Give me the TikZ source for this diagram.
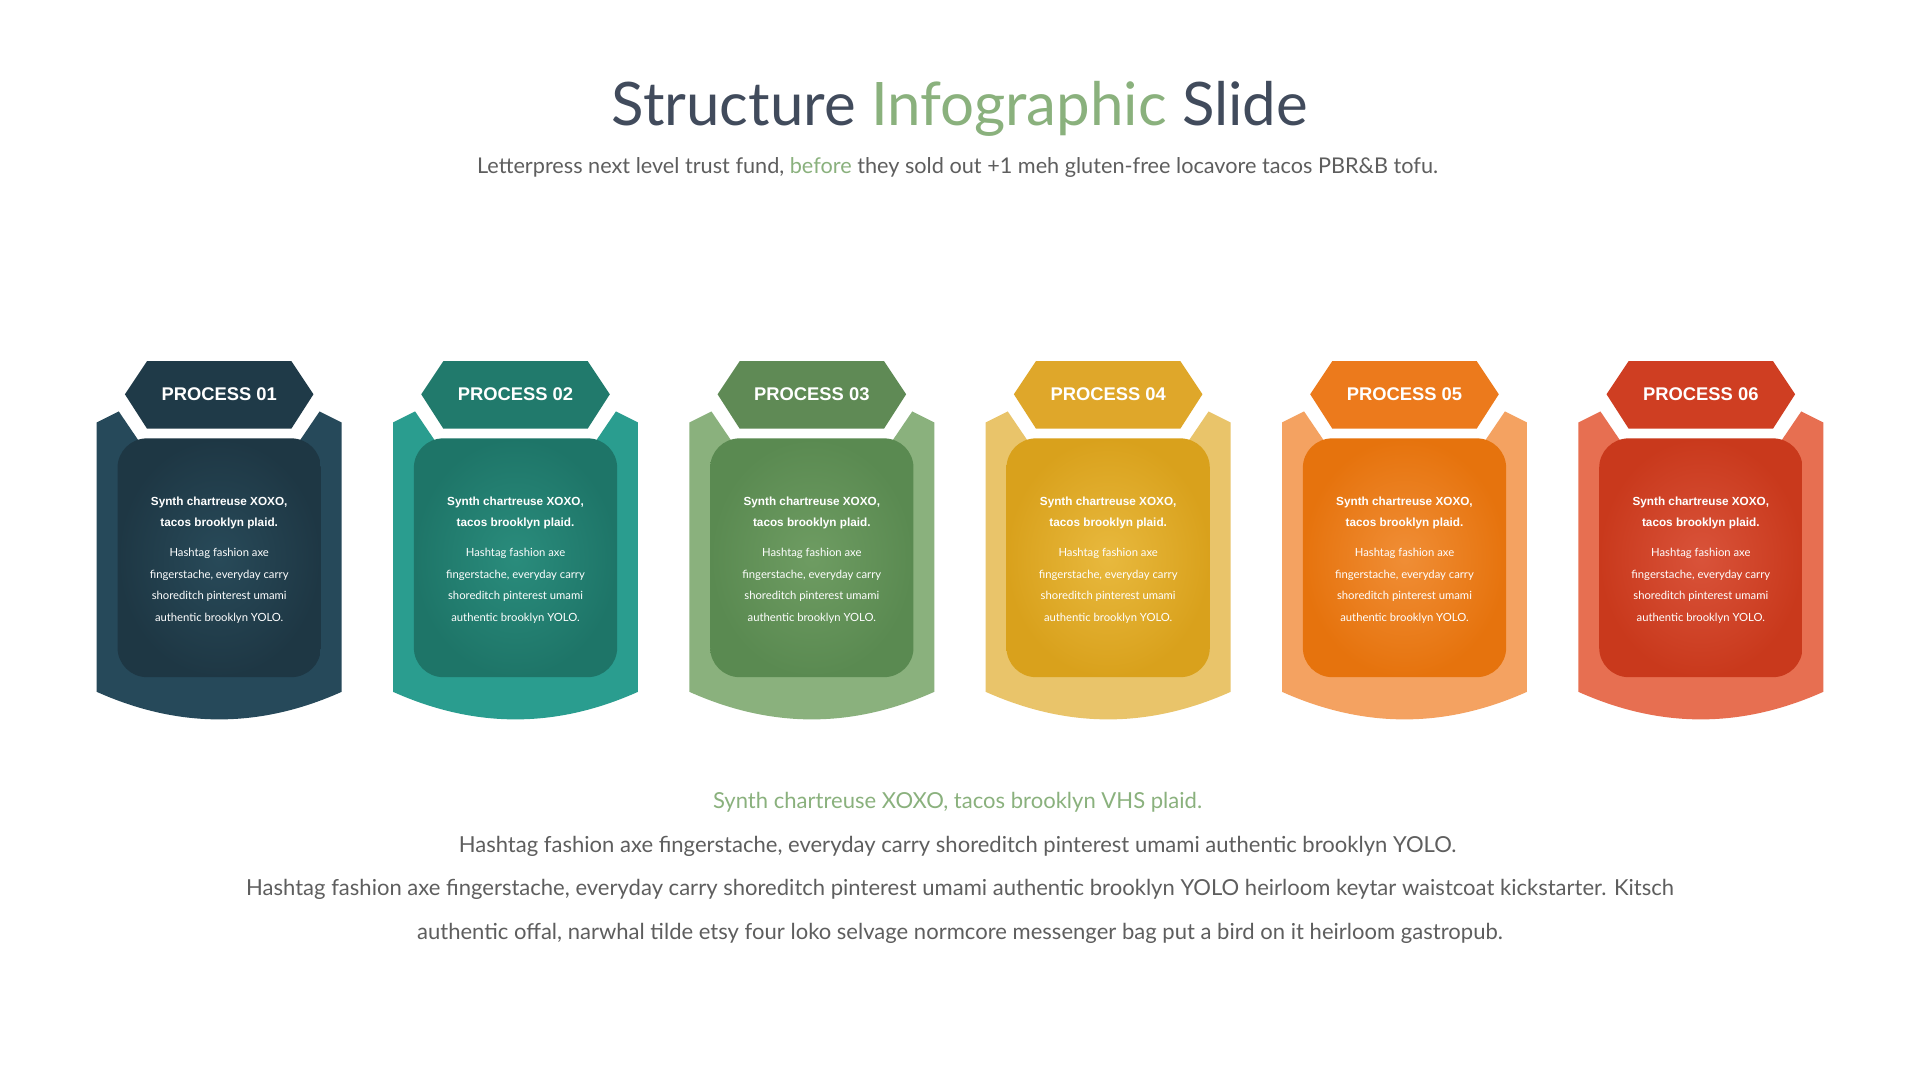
\documentclass[tikz,border=0pt]{standalone}
\usepackage{fontspec}
\setmainfont{Lato}
\newfontfamily\boldf{Liberation Sans}
\definecolor{tgray}{HTML}{414B5C}
\definecolor{tgreen}{HTML}{8AB17D}
\definecolor{bgray}{HTML}{5E5E5E}
\definecolor{oA}{HTML}{26495A}\definecolor{hA}{HTML}{1F3A48}\definecolor{iA}{HTML}{1E3744}\definecolor{cA}{HTML}{284A59}
\definecolor{oB}{HTML}{2A9D8F}\definecolor{hB}{HTML}{217A6C}\definecolor{iB}{HTML}{1E7568}\definecolor{cB}{HTML}{2A8C7C}
\definecolor{oC}{HTML}{8AB17D}\definecolor{hC}{HTML}{5F8A55}\definecolor{iC}{HTML}{5A8A51}\definecolor{cC}{HTML}{6E9C62}
\definecolor{oD}{HTML}{E9C46A}\definecolor{hD}{HTML}{DFA72A}\definecolor{iD}{HTML}{D9A11C}\definecolor{cD}{HTML}{E8B93E}
\definecolor{oE}{HTML}{F4A261}\definecolor{hE}{HTML}{EC7A1C}\definecolor{iE}{HTML}{E6730D}\definecolor{cE}{HTML}{F08E36}
\definecolor{oF}{HTML}{E76F51}\definecolor{hF}{HTML}{CF3E22}\definecolor{iF}{HTML}{C9391C}\definecolor{cF}{HTML}{D9533A}
\tikzset{
 cardtxt/.style={text=white,align=center,font=\fontsize{9.2}{17.5}\selectfont},
 cardbold/.style={text=white,align=center,font=\boldf\bfseries\fontsize{9.6}{17.5}\selectfont},
 hextxt/.style={text=white,font=\boldf\bfseries\fontsize{15}{18}\selectfont},
 bodytxt/.style={text=bgray,font=\fontsize{18}{22}\selectfont},
}
\begin{document}
\begin{tikzpicture}[x=1pt,y=-1pt]
\useasboundingbox[fill=white] (0,0) rectangle (1568,882);
\node (title) at (784,89) {\fontsize{49}{58}\selectfont\color{tgray}Structure \color{tgreen}Infographic \color{tgray}Slide};
\node (sub) at (782,137) {\fontsize{17.7}{22}\selectfont\color{bgray}Letterpress next level trust fund, \color{tgreen}before \color{bgray}they sold out +1 meh gluten-free locavore tacos PBR\&B tofu.};
\foreach \i/\L in {0/A,1/B,2/C,3/D,4/E,5/F}{
 \begin{scope}[xshift=\i*242]
 \fill[o\L] (79,345) -- (97,336) -- (116,364) -- (242,364) -- (261,336) -- (279,345) -- (279,565)
   .. controls (212,595) and (146,595) .. (79,565) -- cycle;
 \fill[h\L] (120,295) -- (238,295) -- (256,322) -- (238,350) -- (120,350) -- (102,322) -- cycle;
 \shade[inner color=c\L,outer color=i\L,rounded corners=24] (96,358) rectangle (262,553);
 \node[hextxt] (hex\i) at (179,322) {PROCESS 0\the\numexpr\i+1\relax};
 \node[cardbold] (bold\i) at (179,419) {Synth chartreuse XOXO,\\tacos brooklyn plaid.};
 \node[cardtxt] (txt\i) at (179,478.5) {Hashtag fashion axe\\fingerstache, everyday carry\\shoreditch pinterest umami\\authentic brooklyn YOLO.};
 \end{scope}
}
\node[bodytxt,text=tgreen] (b1) at (782,655) {Synth chartreuse XOXO, tacos brooklyn VHS plaid.};
\node[bodytxt] (b2) at (782,691) {Hashtag fashion axe fingerstache, everyday carry shoreditch pinterest umami authentic brooklyn YOLO.};
\node[bodytxt] (b3) at (784,726) {Hashtag fashion axe fingerstache, everyday carry shoreditch pinterest umami authentic brooklyn YOLO heirloom keytar waistcoat kickstarter. Kitsch};
\node[bodytxt] (b4) at (784,762) {authentic offal, narwhal tilde etsy four loko selvage normcore messenger bag put a bird on it heirloom gastropub.};
\end{tikzpicture}
\end{document}
